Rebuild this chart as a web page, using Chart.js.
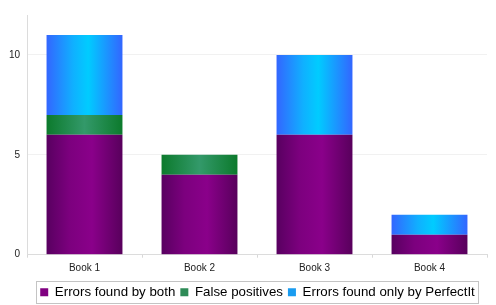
<!DOCTYPE html>
<html>
<head>
<meta charset="utf-8">
<script src="https://cdn.jsdelivr.net/npm/chart.js@4/dist/chart.umd.min.js"></script>
<style>
html,body{margin:0;padding:0;background:#fff;}
#wrap{width:496px;height:305px;}
</style>
</head>
<body>
<div id="wrap"><canvas id="c" width="496" height="305"></canvas></div>
<script>
const categories = ['Book 1', 'Book 2', 'Book 3', 'Book 4'];
const bothValues = [6, 4, 6, 1];
const falsePositiveValues = [1, 1, 0, 0];
const onlyPerfectItValues = [4, 0, 4, 1];
const seriesNames = ['Errors found by both', 'False positives', 'Errors found only by PerfectIt'];
const yTickValues = [0, 5, 10];

const BAR_PCT = 0.66;
function gradient(stops, solid) {
  return (c) => {
    const chart = c.chart;
    const xs = chart.scales && chart.scales.x;
    if (!xs || c.dataIndex === undefined || !chart.chartArea) return solid;
    const cx = xs.getPixelForValue(c.dataIndex);
    const w = (xs.width / categories.length) * BAR_PCT;
    const g = chart.ctx.createLinearGradient(cx - w / 2, 0, cx + w / 2, 0);
    stops.forEach(s => g.addColorStop(s[0], s[1]));
    return g;
  };
}
const purple = gradient([[0, '#580060'], [0.3, '#7c007e'], [0.6, '#8a008a'], [1, '#58005c']], '#800080');
const green = gradient([[0, '#0c7a2c'], [0.5, '#33996a'], [1, '#0c7a2c']], '#2e8b57');
const blue = gradient([[0, '#3366ff'], [0.35, '#10b0ff'], [0.55, '#00ccff'], [1, '#3366ff']], '#1e9cf0');
const legendColors = ['#800080', '#2e8b57', '#1a9cf0'];

const legendBorder = {
  id: 'legendBorder',
  afterLayout(chart) {
    const L = chart.legend;
    if (!L) return;
    L.left += 14; L.right += 14;
  },
  afterDraw(chart) {
    const L = chart.legend;
    if (!L || !L.legendHitBoxes || !L.legendHitBoxes.length) return;
    const hb = L.legendHitBoxes;
    let minX = Infinity, maxX = -Infinity, minY = Infinity, maxY = -Infinity;
    hb.forEach(b => {
      minX = Math.min(minX, b.left); maxX = Math.max(maxX, b.left + b.width);
      minY = Math.min(minY, b.top); maxY = Math.max(maxY, b.top + b.height);
    });
    const ctx = chart.ctx;
    ctx.save();
    ctx.strokeStyle = '#c4c4c4';
    ctx.lineWidth = 1;
    ctx.strokeRect(Math.round(minX - 4) + 0.5, Math.round(minY - 5) + 0.5, Math.round(maxX - minX + 7), 22);
    ctx.restore();
  }
};

new Chart(document.getElementById('c'), {
  type: 'bar',
  data: {
    labels: categories,
    datasets: [
      { label: seriesNames[0], data: bothValues, backgroundColor: purple },
      { label: seriesNames[1], data: falsePositiveValues, backgroundColor: green },
      { label: seriesNames[2], data: onlyPerfectItValues, backgroundColor: blue }
    ]
  },
  options: {
    responsive: false,
    animation: false,
    devicePixelRatio: 1,
    datasets: { bar: { categoryPercentage: 1, barPercentage: BAR_PCT, borderWidth: 0 } },
    layout: { padding: { top: 15, right: 9, left: 0, bottom: -4 } },
    plugins: {
      tooltip: { enabled: false },
      legend: {
        position: 'bottom',
        labels: {
          font: { family: 'Liberation Sans', size: 13.3 },
          color: '#000',
          boxWidth: 8,
          boxHeight: 8,
          padding: 5,
          generateLabels(chart) {
            return chart.data.datasets.map((d, i) => ({
              text: d.label, fillStyle: legendColors[i], strokeStyle: legendColors[i],
              lineWidth: 0, hidden: false, datasetIndex: i
            }));
          }
        }
      }
    },
    scales: {
      x: {
        stacked: true,
        grid: { offset: true, drawOnChartArea: false, drawTicks: true, tickLength: 3, color: '#d8d8d8' },
        border: { color: '#dcdcdc' },
        ticks: { font: { family: 'Liberation Sans', size: 10 }, color: '#222', padding: 5 },
        afterFit(a) { a.height = 26; }
      },
      y: {
        stacked: true,
        min: 0,
        max: 12,
        grid: { color: '#f1f1f1', drawTicks: false },
        border: { color: '#dcdcdc' },
        ticks: { font: { family: 'Liberation Sans', size: 10 }, color: '#222', padding: 7 },
        afterBuildTicks(a) { a.ticks = yTickValues.map(v => ({ value: v })); },
        afterFit(a) { a.width = 27; }
      }
    }
  },
  plugins: [legendBorder]
});
</script>
</body>
</html>
